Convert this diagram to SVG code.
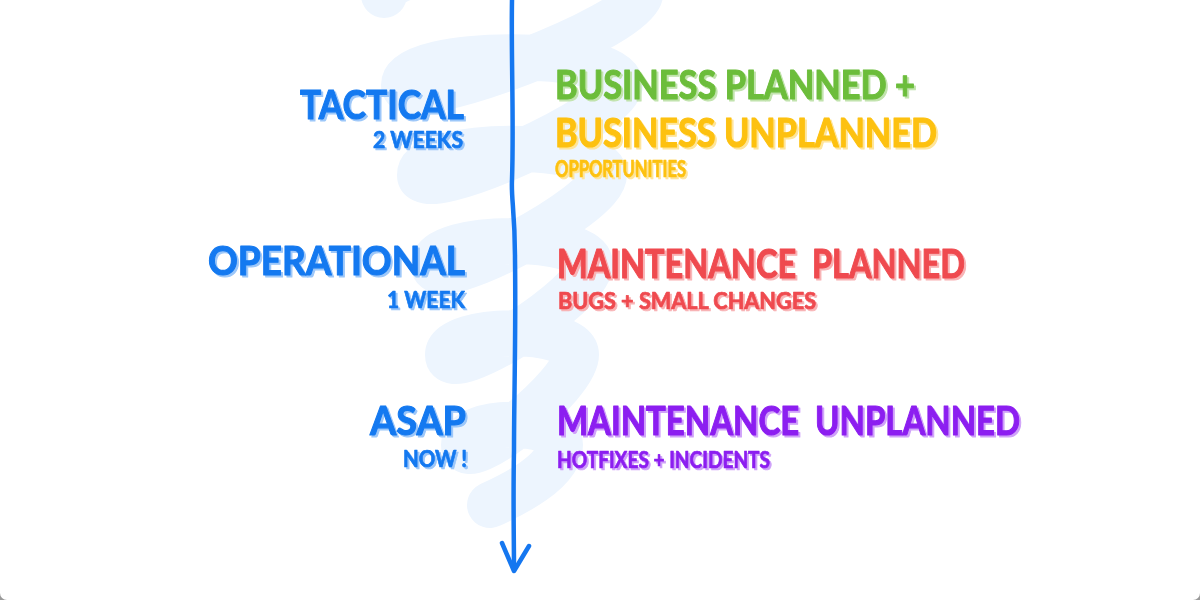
<svg xmlns="http://www.w3.org/2000/svg" width="1200" height="600" viewBox="0 0 1200 600">
  <style>
    text { font-family: "Lato", "Open Sans", "Liberation Sans", sans-serif; font-weight: bold; stroke-linejoin: round; stroke-linecap: round; filter: url(#sh); }
    .big { font-size: 40px; stroke-width: 1.1px; }
    .small { font-size: 22px; stroke-width: 0.7px; }
    .blue { fill: #1479f0; stroke: #1479f0; }
    .green { fill: #6cbd3b; stroke: #6cbd3b; }
    .yellow { fill: #fdc110; stroke: #fdc110; }
    .red { fill: #ef4a4f; stroke: #ef4a4f; }
    .purple { fill: #8c1ef0; stroke: #8c1ef0; }
    .left { text-anchor: end; }
    .coil { fill: none; stroke: #edf5fe; stroke-width: 46; stroke-linecap: round; stroke-linejoin: round; }
    .arrow { fill: none; stroke: #1577f0; stroke-width: 4.5; stroke-linecap: round; stroke-linejoin: round; }
  </style>
  <defs>
    <filter id="sh" x="-5%" y="-20%" width="115%" height="150%" color-interpolation-filters="sRGB">
      <feColorMatrix in="SourceGraphic" type="matrix" values="0.42 0 0 0 0.58  0 0.42 0 0 0.58  0 0 0.42 0 0.58  0 0 0 1 0" result="lt"/>
      <feOffset in="lt" dx="2" dy="2" result="off"/>
      <feMerge><feMergeNode in="off"/><feMergeNode in="SourceGraphic"/></feMerge>
    </filter>
  </defs>
  <rect x="0" y="0" width="1200" height="600" fill="#9a9a9a"/>
  <rect x="0" y="-20" width="1200" height="620" rx="7" fill="#ffffff"/>

  <g id="background-coil">
    <path class="coil" d="M 384 -5 C 384 -45 640 -45 640 -5 C 640 25 404 115 404 85 C 404 48 620 48 620 85 C 620 115 420 205 420 175 C 420 140 604 140 604 175 C 604 205 434 295 434 265 C 434 233 590 233 590 265 C 590 295 448 385 448 355 C 448 326 576 326 576 355 C 576 385 464 475 464 445 C 464 418 560 418 560 445 C 560 475 500 500 490 505"/>
  </g>

  <g id="connectors">
    <path class="arrow" d="M 512 0 C 511 60 514 120 512 180 C 511 200 515 210 515 260 C 516 330 514 400 514 450 C 513 500 514 540 514 570"/>
    <path class="arrow" d="M 502 543 L 514 571 L 529 546"/>
  </g>

  <g id="tactical">
    <text class="big blue left" x="464" y="119" textLength="164" lengthAdjust="spacingAndGlyphs">TACTICAL</text>
    <text class="small blue left" x="463" y="148" textLength="90" lengthAdjust="spacingAndGlyphs">2 WEEKS</text>
  </g>
  <g id="operational">
    <text class="big blue left" x="465" y="275" textLength="257" lengthAdjust="spacingAndGlyphs">OPERATIONAL</text>
    <text class="small blue left" x="465" y="308" textLength="78" lengthAdjust="spacingAndGlyphs">1 WEEK</text>
  </g>
  <g id="asap">
    <text class="big blue left" x="466" y="435" textLength="96" lengthAdjust="spacingAndGlyphs">ASAP</text>
    <text class="small blue left" x="467" y="467" textLength="64" lengthAdjust="spacingAndGlyphs">NOW !</text>
  </g>
  <g id="business">
    <text class="big green" x="555" y="99" textLength="360" lengthAdjust="spacingAndGlyphs">BUSINESS PLANNED +</text>
    <text class="big yellow" x="555" y="147" textLength="382" lengthAdjust="spacingAndGlyphs">BUSINESS UNPLANNED</text>
    <text class="small yellow" x="555" y="177" textLength="131" lengthAdjust="spacingAndGlyphs">OPPORTUNITIES</text>
  </g>
  <g id="maintenance-planned">
    <text class="big red" x="557" y="278" textLength="408" lengthAdjust="spacingAndGlyphs" xml:space="preserve">MAINTENANCE  PLANNED</text>
    <text class="small red" x="558" y="309" textLength="258" lengthAdjust="spacingAndGlyphs">BUGS + SMALL CHANGES</text>
  </g>
  <g id="maintenance-unplanned">
    <text class="big purple" x="557" y="435" textLength="463" lengthAdjust="spacingAndGlyphs" xml:space="preserve">MAINTENANCE  UNPLANNED</text>
    <text class="small purple" x="557" y="468" textLength="213" lengthAdjust="spacingAndGlyphs">HOTFIXES + INCIDENTS</text>
  </g>
</svg>
